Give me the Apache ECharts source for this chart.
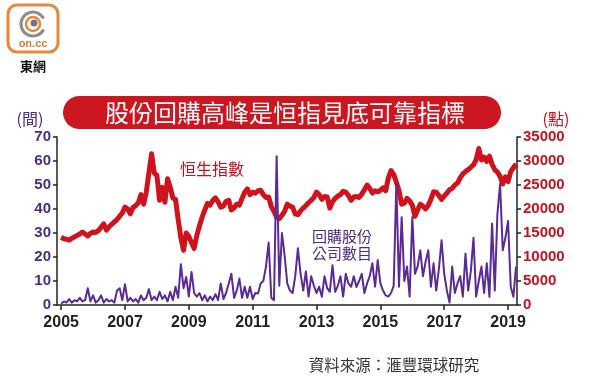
<!DOCTYPE html>
<html>
<head>
<meta charset="utf-8">
<script src="https://cdn.jsdelivr.net/npm/echarts@6/dist/echarts.min.js"></script>
<style>
html,body{margin:0;padding:0;background:#fff;}
#chart{width:597px;height:387px;}
</style>
</head>
<body>
<div id="chart"></div>
<script>
// ---- data (monthly, starting Jan 2005) ----
const startYear = 2005;
const tickYears = [2005, 2007, 2009, 2011, 2013, 2015, 2017, 2019];
const leftTicks = [0, 10, 20, 30, 40, 50, 60, 70];
const rightTicks = [0, 5000, 10000, 15000, 20000, 25000, 30000, 35000];

// Hang Seng Index (points, right axis)
const hsi = [
  14100, 13800, 13700, 13500, 13900, 14200, 14500, 14800, 15200, 14800, 14400, 14900,
  15200, 15100, 15500, 16200, 16900, 15600, 16300, 16800, 17300, 17800, 18500, 19200,
  20400, 20000, 19000, 20300, 20700, 21300, 23000, 21000, 23500, 27600, 31500, 27500,
  27000, 21800, 24500, 21400, 26300, 24500, 22300, 22000, 17800, 14000, 11400, 15000,
  14300, 13000, 11800, 14500, 16500, 18300, 19800, 21200, 20800, 21800, 22300, 21500,
  20400, 20600, 21600, 21800, 19800, 20200, 21000, 20800, 22200, 23500, 24200, 23000,
  23500, 23300, 23800, 23900, 23000, 22400, 22500, 20500, 19500, 18300, 18000, 18700,
  19500, 21000, 20600, 20400, 19000, 18800, 19600, 20200, 20700, 21300, 21800, 22400,
  23500, 23000, 22000, 22600, 22500, 20200, 21500, 22200, 22700, 23000, 23700, 23500,
  22800, 21800, 22500, 22600, 22400, 23100, 24000, 25000, 24300, 23300, 23800, 23600,
  23900, 24400, 23800, 26500, 28000, 27200, 25600, 23800, 21000, 21200, 22200, 21700,
  20800, 18500, 19800, 21000, 20600, 20000, 20800, 22000, 23600, 23500, 22800, 22000,
  22700, 23300, 24000, 24300, 25000, 25400, 26500, 27300, 27800, 28200, 28700, 29200,
  30300, 32600, 30200, 30800, 29900, 31000, 29300, 28200, 27700, 26800, 25200, 26700,
  25700, 27800, 28600, 29400
];

// Number of companies buying back shares (left axis)
const buybacks = [
  0.5, 1.5, 1, 2.5, 1, 2, 1.5, 3, 1.5, 2, 7, 1.5,
  4, 1, 2, 4, 1, 2.5, 1.5, 2, 1, 6, 7, 2,
  8.7, 1.5, 3, 1.5, 2.5, 1, 4, 2, 3, 6.6, 2, 3.5,
  2, 5.5, 2.5, 4, 1.5, 5.5, 2, 7.6, 3, 17, 7, 11.7,
  3.5, 13.8, 5, 3.5, 5, 2, 4, 1.5, 3.5, 2, 4.5, 2,
  9, 2.5, 5, 9, 13, 3, 6, 11, 3, 7.6, 3, 7.6,
  2.5, 5, 4.8, 9, 10, 16, 26, 3, 2, 62, 8, 30,
  20.7, 9, 6, 5, 12, 23.6, 13, 6, 14, 3.5, 12, 8,
  5, 7.6, 3.4, 12, 7, 5.5, 16.6, 5.5, 8, 12, 3.5, 13,
  9, 7.6, 12, 7.5, 10, 13, 5, 9, 12, 17.4, 7.6, 18.7,
  9, 6, 4, 3.5, 5, 8, 50.6, 7.6, 36.6, 10, 16, 3.5,
  36.6, 13, 16, 22.8, 12, 18, 22.8, 7.6, 17.4, 6, 15, 27,
  13, 6, 1, 16, 5, 9, 12, 3.5, 21.4, 6, 14, 28,
  3.5, 10, 16, 5, 17.4, 3.4, 34, 6, 38, 50.5, 22.8, 28,
  35, 7.6, 3.4, 16
];

const titleText = '股份回購高峰是恒指見底可靠指標';
const sourceText = '資料來源：滙豐環球研究';

// ---- build ----
const toPairs = arr => arr.map((v, i) => [startYear + i / 12, v]);

const RED = '#d0121d';
const PURPLE = '#5b2a96';
const PURPLE_TXT = '#4b2a88';
const NUM_FONT = "'Liberation Sans', Arial, sans-serif";
const CJK = "'Noto Sans CJK TC', 'Noto Sans CJK SC', sans-serif";

const chart = echarts.init(document.getElementById('chart'), null, {renderer: 'canvas'});
chart.setOption({
  animation: false,
  backgroundColor: '#fff',
  grid: {left: 57, right: 80, top: 137, bottom: 82, containLabel: false},
  xAxis: {
    type: 'value',
    min: 2004.87,
    max: 2019.28,
    axisLine: {show: true, onZero: false, lineStyle: {color: '#222', width: 1.5}},
    axisTick: {show: true, customValues: tickYears, length: 5, lineStyle: {color: '#222', width: 1.5}},
    axisLabel: {
      customValues: tickYears, formatter: v => String(v),
      color: '#222', fontWeight: 'bold', fontSize: 16, fontFamily: NUM_FONT, margin: 10
    },
    splitLine: {show: false}
  },
  yAxis: [
    {
      type: 'value', position: 'left', min: 0, max: 70, interval: 10,
      axisLine: {show: true, lineStyle: {color: '#222', width: 1.5}},
      axisTick: {show: true, length: 4, lineStyle: {color: '#222', width: 1.5}},
      axisLabel: {color: PURPLE_TXT, fontWeight: 'bold', fontSize: 15, fontFamily: NUM_FONT, margin: 6,
                  formatter: v => String(v)},
      splitLine: {show: false}
    },
    {
      type: 'value', position: 'right', min: 0, max: 35000, interval: 5000,
      axisLine: {show: true, lineStyle: {color: '#222', width: 1.5}},
      axisTick: {show: true, length: 4, lineStyle: {color: '#222', width: 1.5}},
      axisLabel: {color: '#c8101e', fontWeight: 'bold', fontSize: 15, fontFamily: NUM_FONT, margin: 6,
                  formatter: v => String(v)},
      splitLine: {show: false}
    }
  ],
  series: [
    {
      name: '恒生指數', type: 'line', yAxisIndex: 1, data: toPairs(hsi),
      showSymbol: false, symbol: 'none', z: 2,
      lineStyle: {color: RED, width: 5, join: 'round'}
    },
    {
      name: '回購股份公司數目', type: 'line', yAxisIndex: 0, data: toPairs(buybacks),
      showSymbol: false, symbol: 'none', z: 3,
      lineStyle: {color: PURPLE, width: 2, join: 'round'}
    }
  ],
  graphic: [
    // logo
    {type: 'rect', shape: {x: 8, y: 5, width: 50, height: 47, r: 9},
     style: {fill: '#fff', stroke: '#e8873c', lineWidth: 3}},
    {type: 'arc', shape: {cx: 33, cy: 24, r: 12, startAngle: Math.PI * 0.15, endAngle: Math.PI * 1.85},
     style: {fill: null, stroke: '#8c8c8c', lineWidth: 3}},
    {type: 'circle', shape: {cx: 33, cy: 24, r: 7}, style: {fill: null, stroke: '#e8873c', lineWidth: 2.5}},
    {type: 'circle', shape: {cx: 34, cy: 23, r: 3.5}, style: {fill: '#777'}},
    {type: 'text', x: 33, y: 44, style: {text: 'on.cc', fill: '#e07a2e', font: "bold 11px 'Liberation Sans', Arial, sans-serif", align: 'center', verticalAlign: 'middle'}},
    {type: 'text', x: 33, y: 66, style: {text: '東網', fill: '#111', font: "bold 13px " + CJK, align: 'center', verticalAlign: 'middle'}},
    // title bar
    {type: 'rect', shape: {x: 63, y: 96, width: 438, height: 33, r: 16.5}, style: {fill: '#cc1720'}},
    {type: 'text', x: 285, y: 112.5, style: {text: titleText, fill: '#fff', font: "24px " + CJK, align: 'center', verticalAlign: 'middle'}},
    // axis units
    {type: 'text', x: 30, y: 119, style: {text: '(間)', fill: PURPLE_TXT, font: "16px " + CJK, align: 'center', verticalAlign: 'middle'}},
    {type: 'text', x: 556, y: 119, style: {text: '(點)', fill: '#c8101e', font: "16px " + CJK, align: 'center', verticalAlign: 'middle'}},
    // annotations
    {type: 'text', x: 212, y: 169, style: {text: '恒生指數', fill: '#c8101e', font: "16px " + CJK, align: 'center', verticalAlign: 'middle'}},
    {type: 'text', x: 342, y: 245, style: {text: '回購股份\n公司數目', fill: PURPLE_TXT, font: "15px " + CJK, lineHeight: 17, align: 'center', verticalAlign: 'middle'}},
    // source
    {type: 'text', x: 394, y: 365, style: {text: sourceText, fill: '#333', font: "15.5px " + CJK, align: 'center', verticalAlign: 'middle'}}
  ]
});
</script>
</body>
</html>
